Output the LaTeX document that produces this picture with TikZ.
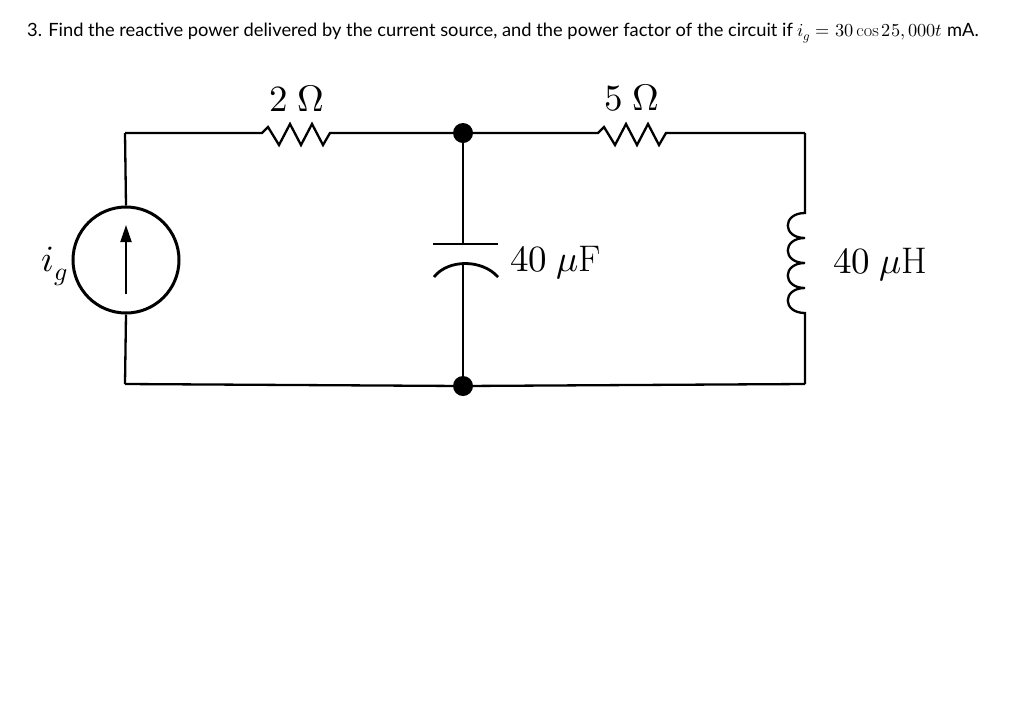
\documentclass[tikz,border=0pt]{standalone}
\usepackage{fontspec}
\usepackage{unicode-math}
\setmainfont{Lato}
\setmathfont{Latin Modern Math}
\setmathrm{Latin Modern Roman}
\usetikzlibrary{arrows.meta}
\begin{document}
\begin{tikzpicture}[x=1pt,y=-1pt,
  wire/.style={line width=2.3pt},
  dot/.style={circle,fill=black,inner sep=0pt,minimum size=20pt},
  lbl/.style={font=\fontsize{37}{37}\selectfont}]
\useasboundingbox (0,0) rectangle (1024,713);
\node[anchor=west,font=\fontsize{18.3}{20}\selectfont,inner sep=0pt] (title) at (27,33)
 {3. Find the reactive power delivered by the current source, and the power factor of the circuit if $i_g=30\cos 25,000t$ mA.};
\coordinate (tl) at (125,133); \coordinate (bl) at (125,384);
\node[dot] (tm) at (463,133) {}; \node[dot] (bm) at (463,386) {};
\coordinate (tr) at (805,133); \coordinate (br) at (805,384);
\node[circle,draw,line width=3pt,minimum size=106pt,inner sep=0pt] (src) at (126,260) {};
\draw[wire] (tl) -- (src.north); \draw[wire] (src.south) -- (bl);
\draw[line width=2pt,-{Triangle[length=17pt,width=11pt]}] (126,294) -- (126,225);
% 2 ohm
\coordinate (r1a) at (262,133); \coordinate (r1b) at (330,133);
\draw[wire,line join=miter] (tl) -- (r1a) -- (268,127) -- (279,145) -- (290,124) -- (301,145) -- (312,124) -- (323,145) -- (r1b) -- (tm);
% 5 ohm
\coordinate (r2a) at (598,133); \coordinate (r2b) at (666,133);
\draw[wire,line join=miter] (tm) -- (r2a) -- (604,127) -- (615,145) -- (626,124) -- (637,145) -- (648,124) -- (659,145) -- (r2b) -- (tr);
% capacitor
\coordinate (c1) at (463,244); \coordinate (c2) at (463,264);
\draw[wire] (tm) -- (c1);
\draw[line width=2.8pt] (433,244) -- (498,244);
\draw[line width=2.8pt] (434,277) .. controls (448,259) and (482,259) .. (498,277);
\draw[wire] (c2) -- (bm);
\node[lbl,anchor=west,inner sep=0pt] (cl) at (510,263) {$40\ \mu\mathrm{F}$};
% inductor
\coordinate (l1) at (805,213); \coordinate (l2) at (805,313);
\draw[wire] (tr) -- (l1)
  .. controls (782,213) and (782,238) .. (805,238)
  .. controls (782,238) and (782,263) .. (805,263)
  .. controls (782,263) and (782,288) .. (805,288)
  .. controls (782,288) and (782,313) .. (805,313) -- (br);
\node[lbl,anchor=west,inner sep=0pt] (ll) at (833,265) {$40\ \mu\mathrm{H}$};
\draw[wire] (bl) -- (bm) -- (br);
\node[lbl] (r1l) at (297,98) {$2\ \Omega$};
\node[lbl] (r2l) at (632,98) {$5\ \Omega$};
\node[lbl] (igl) at (55,266) {$i_g$};
\end{tikzpicture}
\end{document}
